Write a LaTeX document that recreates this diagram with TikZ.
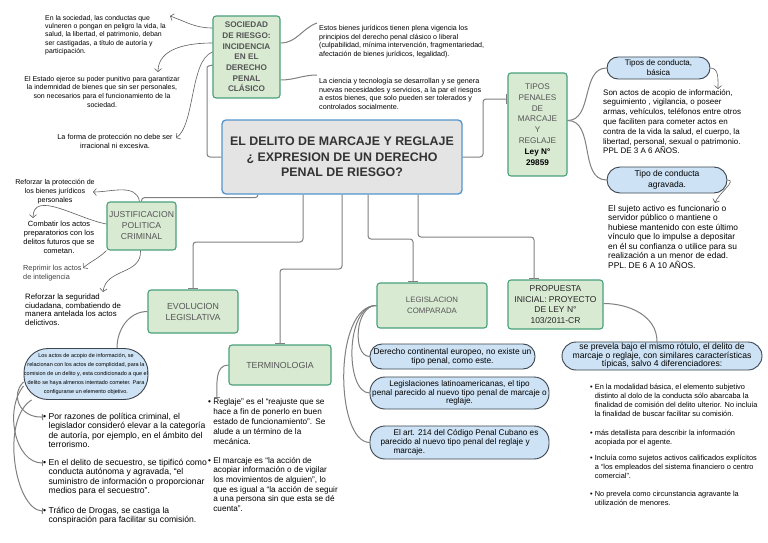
\documentclass[tikz,border=0pt]{standalone}
\usepackage{fontspec}
\setmainfont{Liberation Sans}
\usetikzlibrary{arrows.meta,backgrounds}

\definecolor{boxfill}{RGB}{217,234,211}
\definecolor{boxline}{RGB}{72,160,122}
\definecolor{boxtext}{RGB}{85,85,85}
\definecolor{mainfill}{RGB}{228,228,228}
\definecolor{mainline}{RGB}{84,148,204}
\definecolor{pillfill}{RGB}{205,226,244}
\definecolor{pillline}{RGB}{60,68,78}
\definecolor{linkgray}{RGB}{128,128,128}
\definecolor{callgray}{RGB}{95,95,95}

\newcommand\fsz[2]{\fontsize{#1}{#2}\selectfont}
\newcommand\ind{\hphantom{•\space}}

\tikzset{
  gbox/.style={draw=boxline, fill=boxfill, line width=1.1pt, rounded corners=3pt,
    inner sep=0pt, align=center, text=boxtext},
  mainbox/.style={draw=mainline, fill=mainfill, line width=1.3pt, rounded corners=4pt,
    inner sep=0pt, align=center, text=black!80},
  pill/.style={draw=pillline, fill=pillfill, line width=0.9pt, inner sep=0pt,
    align=center, rounded corners=#1},
  note/.style={inner sep=0pt, align=left, anchor=north west},
  notec/.style={inner sep=0pt, align=center, anchor=north},
  link/.style={draw=linkgray, line width=1pt, rounded corners=3pt},
  tbar/.style={-{Bar[width=10pt,line width=1.4pt]}},
  tick/.style={-{Bar[width=6pt]}},
  call/.style={draw=callgray, line width=0.6pt, -{Straight Barb[length=3pt,width=7pt]}}
}

\begin{document}
\begin{tikzpicture}[x=1pt, y=-1pt]
  \useasboundingbox (0,0) rectangle (768,543);

  % main concept
  \node[mainbox, minimum width=240pt, minimum height=74pt, font=\bfseries\fsz{12.4}{15.5}] (main) at (342,157)
    {EL DELITO DE MARCAJE Y REGLAJE\\¿ EXPRESION DE UN DERECHO\\PENAL DE RIESGO?};

  % green boxes
  \node[gbox, minimum width=67pt, minimum height=82pt, font=\bfseries\fsz{8.2}{10.7}] (soc) at (246.5,57)
    {SOCIEDAD\\DE RIESGO:\\INCIDENCIA\\EN EL\\DERECHO\\PENAL\\CLÁSICO};
  \node[gbox, minimum width=59pt, minimum height=103pt, font=\fsz{8.2}{10.8}] (tipos) at (537.5,124.5)
    {TIPOS\\PENALES\\DE\\MARCAJE\\Y\\REGLAJE\\{\bfseries\color{black}Ley N°}\\{\bfseries\color{black}29859}};
  \node[gbox, minimum width=69pt, minimum height=48pt, font=\fsz{8.6}{11}] (just) at (141.5,226)
    {JUSTIFICACION\\POLITICA\\CRIMINAL};
  \node[gbox, minimum width=90pt, minimum height=43pt, font=\fsz{8.8}{11}] (evol) at (193,311.5)
    {EVOLUCION\\LEGISLATIVA};
  \node[gbox, minimum width=102pt, minimum height=40pt, font=\fsz{8.8}{11}] (term) at (280,365)
    {TERMINOLOGIA};
  \node[gbox, minimum width=110pt, minimum height=45pt, font=\fsz{7.8}{11.5}] (legis) at (432,305.5)
    {LEGISLACION\\COMPARADA};
  \node[gbox, minimum width=95pt, minimum height=49pt, font=\fsz{8.5}{10.8}, text=black!85] (prop) at (555.5,304.5)
    {PROPUESTA\\INICIAL: PROYECTO\\DE LEY N°\\103/2011-CR};

  % blue pills
  \node[pill=11pt, minimum width=103pt, minimum height=22pt, font=\fsz{8}{10}] (pbas) at (658.5,68)
    {Tipos de conducta,\\básica};
  \node[pill=13pt, minimum width=120pt, minimum height=26pt, font=\fsz{8.5}{11}] (pagr) at (667,180)
    {Tipo de conducta\\agravada.};
  \node[pill=24pt, minimum width=122pt, minimum height=51pt, font=\fsz{5.5}{9.2}] (pevo) at (86,374)
    {Los actos de acopio de información,  se\\relacionan con los actos de complicidad,  para la\\comision de un delito y, esta condicionado a que el\\delito se haya  almenos intentado cometer. Para\\configurarse un elemento objetivo.};
  \node[pill=12pt, minimum width=165pt, minimum height=25pt, font=\fsz{8.4}{9.3}] (pleg1) at (452.5,356.5)
    {Derecho continental europeo, no existe un\\tipo penal, como este.};
  \node[pill=15pt, minimum width=179pt, minimum height=32pt, font=\fsz{8.2}{8.4}] (pleg2) at (459.5,393)
    {Legislaciones  latinoamericanas, el tipo\\penal parecido al nuevo tipo penal de marcaje o\\reglaje.};
  \node[pill=15pt, minimum width=179pt, minimum height=33pt, font=\fsz{8.2}{9.2}, align=left] (pleg3) at (459.5,442.5)
    {\hspace*{13pt}El art. 214 del Código Penal Cubano es\\parecido al nuevo tipo penal del reglaje y\\\hspace*{13pt}marcaje.};
  \node[pill=14pt, minimum width=200pt, minimum height=28pt, font=\fsz{8.6}{8.7}] (pprop) at (662,356)
    {se prevela bajo el mismo rótulo, el delito de\\marcaje o reglaje, con similares características\\típicas, salvo 4 diferenciadores:};

  % notes round SOCIEDAD
  \node[note, font=\fsz{6.9}{8.4}] (tsoc1) at (45,15)
    {En la sociedad, las conductas que\\vulneren o pongan en peligro  la vida, la\\salud, la libertad, el patrimonio, deban\\ser castigadas, a título de autoría y\\participación.};
  \node[notec, font=\fsz{7}{8.7}] (tsoc2) at (102,76)
    {El Estado ejerce su poder punitivo para garantizar\\la indemnidad de bienes que sin ser personales,\\son necesarios para el funcionamiento de la\\sociedad.};
  \node[notec, font=\fsz{7.3}{9}] (tsoc3) at (115,134)
    {La forma de protección no debe ser\\irracional ni excesiva.};
  \node[note, font=\fsz{7.1}{8.7}] (tsoc4) at (319,25)
    {Estos bienes jurídicos tienen plena vigencia los\\principios del derecho penal clásico o liberal\\(culpabilidad, mínima intervención, fragmentariedad,\\afectación de bienes jurídicos, legalidad).};
  \node[note, font=\fsz{7.2}{8.7}] (tsoc5) at (319,78)
    {La ciencia y tecnología se desarrollan y se genera\\nuevas necesidades y servicios, a la par el riesgos\\a estos bienes, que solo pueden ser tolerados y\\controlados socialmente.};

  % notes of the penal types
  \node[note, font=\fsz{8}{9.8}] (tbas) at (603,89)
    {Son actos de acopio de información,\\seguimiento , vigilancia, o poseer\\armas, vehículos, teléfonos entre otros\\que faciliten para cometer actos en\\contra de la vida la salud, el cuerpo, la\\libertad, personal, sexual o patrimonio.\\PPL DE 3 A 6 AÑOS.};
  \node[note, font=\fsz{8.4}{9.5}] (tagr) at (608,205)
    {El sujeto activo es funcionario o\\servidor público o mantiene o\\hubiese mantenido con este último\\vínculo que lo impulse a depositar\\en él su confianza o utilice para su\\realización a un menor de edad.\\PPL. DE 6 A 10 AÑOS.};

  % notes round JUSTIFICACION
  \node[notec, font=\fsz{7.1}{9}] (tjus1) at (55,179)
    {Reforzar la protección de\\los bienes jurídicos\\personales};
  \node[notec, font=\fsz{7.5}{9}] (tjus2) at (59,221)
    {Combatir los actos\\preparatorios con los\\delitos futuros que se\\cometan.};
  \node[note, font=\fsz{7.3}{9}, text=black!75] (tjus3) at (23,265)
    {Reprimir los actos\\de inteligencia};
  \node[note, font=\fsz{7.8}{8.5}] (tjus4) at (25,294)
    {Reforzar la seguridad\\ciudadana, combatiendo de\\manera antelada los actos\\delictivos.};

  % bullets under EVOLUCION
  \node[note, font=\fsz{8.6}{9.3}] (bevo1) at (43,413)
    {• Por razones de política criminal, el\\\ind legislador consideró  elevar a la categoría\\\ind de autoría, por ejemplo, en el ámbito del\\\ind terrorismo.};
  \node[note, font=\fsz{8.6}{9.3}] (bevo2) at (43,459)
    {• En el delito de secuestro, se tipificó como\\\ind conducta autónoma y agravada, “el\\\ind suministro de información o proporcionar\\\ind medios para el secuestro”.};
  \node[note, font=\fsz{8.6}{9.3}] (bevo3) at (43,507)
    {• Tráfico de Drogas, se castiga la\\\ind conspiración  para facilitar su comisión.};

  % bullets under TERMINOLOGIA
  \node[note, font=\fsz{8.2}{10}] (bterm1) at (208,398)
    {• Reglaje” es el “reajuste que se\\\ind hace  a fin de ponerlo en buen\\\ind estado de funcionamiento”. Se\\\ind alude a un término de la\\\ind mecánica.};
  \node[note, font=\fsz{8.2}{9.6}] (bterm2) at (208,457)
    {• El marcaje es “la acción de\\\ind acopiar información o de vigilar\\\ind los movimientos de alguien”, lo\\\ind que es igual a “la acción de seguir\\\ind a una persona sin que esta  se dé\\\ind cuenta”.};

  % bullets under the proposal
  \node[note, font=\fsz{7.4}{9}] (bprop1) at (590,384)
    {• En la modalidad básica, el elemento subjetivo\\\ind distinto al dolo de la conducta sólo abarcaba la\\\ind finalidad de comisión del delito ulterior. No incluía\\\ind la finalidad de buscar facilitar su comisión.};
  \node[note, font=\fsz{7.4}{9}] (bprop2) at (590,430)
    {• más detallista para describir la información\\\ind acopiada por el agente.};
  \node[note, font=\fsz{7.4}{9}] (bprop3) at (590,455)
    {• Incluía como sujetos activos calificados explícitos\\\ind a “los empleados del sistema financiero o centro\\\ind comercial”.};
  \node[note, font=\fsz{7.4}{9}] (bprop4) at (590,491)
    {• No prevela como circunstancia agravante la\\\ind utilización de menores.};

  % free ends of the callouts
  \coordinate (tip1) at (170,16);
  \coordinate (tip2) at (158,72);
  \coordinate (tip3) at (176,138);
  \coordinate (tip4) at (317,23);
  \coordinate (tip5) at (317,75);
  \coordinate (tip6) at (718,89);
  \coordinate (tip7) at (715,203);
  \coordinate (tip8) at (93,192);
  \coordinate (tip9) at (33,218);
  \coordinate (tip10) at (83,268);
  \coordinate (tip11) at (103,292);

  % tree links, behind the boxes
  \begin{scope}[on background layer]
    \fill[white] (0,0) rectangle (768,543);
    \draw[link] (main.west) -- (207,157) -- (207,70) to[out=90,in=180] ([yshift=-8pt]soc.west);
    \draw[link] ([xshift=-84pt]main.south) -- ++(0,3) -| (just.north);
    \draw[link,tbar] ([xshift=-39pt]main.south) -- (303,242) -| (evol.north);
    \draw[link,tbar] (main.south) -- (342,269) -| (term.north);
    \draw[link,tbar] ([xshift=26pt]main.south) -- (368,239) -| ([xshift=-19pt]legis.north);
    \draw[link,tbar] ([xshift=76pt]main.south) -- (418,237) -| ([xshift=-21.5pt]prop.north);
    \draw[link,tbar] (main.east) -- (483,157) |- ([yshift=25.5pt]tipos.west);
    \draw[link] ([yshift=4pt]tipos.east) to[out=0,in=180] (pbas.west);
    \draw[link] ([yshift=4pt]tipos.east) to[out=0,in=180] (pagr.west);
    \draw[link] ([yshift=14pt]soc.east) to[out=0,in=200] (tip4);
    \draw[link] ([yshift=-23pt]soc.east) to[out=0,in=180] (tip5);
    \draw[link] (evol.west) to[out=180,in=90] ([xshift=31pt]pevo.north);
    \draw[link,tick] ([yshift=-8pt]pevo.west) .. controls (10,395) and (20,418) .. ([yshift=-4pt]bevo1.north west);
    \draw[link,tick] ([yshift=-12pt]pevo.west) .. controls (4,410) and (15,463) .. ([yshift=-4pt]bevo2.north west);
    \draw[link,tick] ([xshift=8pt]pevo.south west) .. controls (0,420) and (15,510) .. ([yshift=-4pt]bevo3.north west);
    \draw[link,tick] (term.west) to[out=180,in=90] ([xshift=9pt]bterm1.north west);
    \draw[link] (legis.west) .. controls (355,305) and (352,356) .. (pleg1.west);
    \draw[link] (legis.west) .. controls (345,305) and (345,393) .. (pleg2.west);
    \draw[link] (legis.west) .. controls (333,305) and (335,442) .. (pleg3.west);
    \draw[link] ([yshift=1pt]prop.east) to[out=0,in=90] ([xshift=-5pt]pprop.north);
  \end{scope}

  % callouts
  \draw[call] ([yshift=29pt]soc.west) to[out=180,in=-20] (tip1);
  \draw[call] ([yshift=14pt]soc.west) to[out=180,in=90] (tip2);
  \draw[call] ([yshift=5pt]soc.west) .. controls (190,60) and (195,125) .. (tip3);
  \draw[call] (pbas.east) to[out=0,in=90] (tip6);
  \draw[call] (pagr.east) to[out=0,in=70] (tip7);
  \draw[call] ([xshift=-2pt]just.north) to[out=100,in=0] (tip8);
  \draw[call] ([yshift=2pt]just.west) to[out=170,in=90] (tip9);
  \draw[call] (just.south west) to[out=225,in=40] (tip10);
  \draw[call] ([xshift=-1pt]just.south) .. controls (142,275) and (106,268) .. (tip11);
\end{tikzpicture}
\end{document}
